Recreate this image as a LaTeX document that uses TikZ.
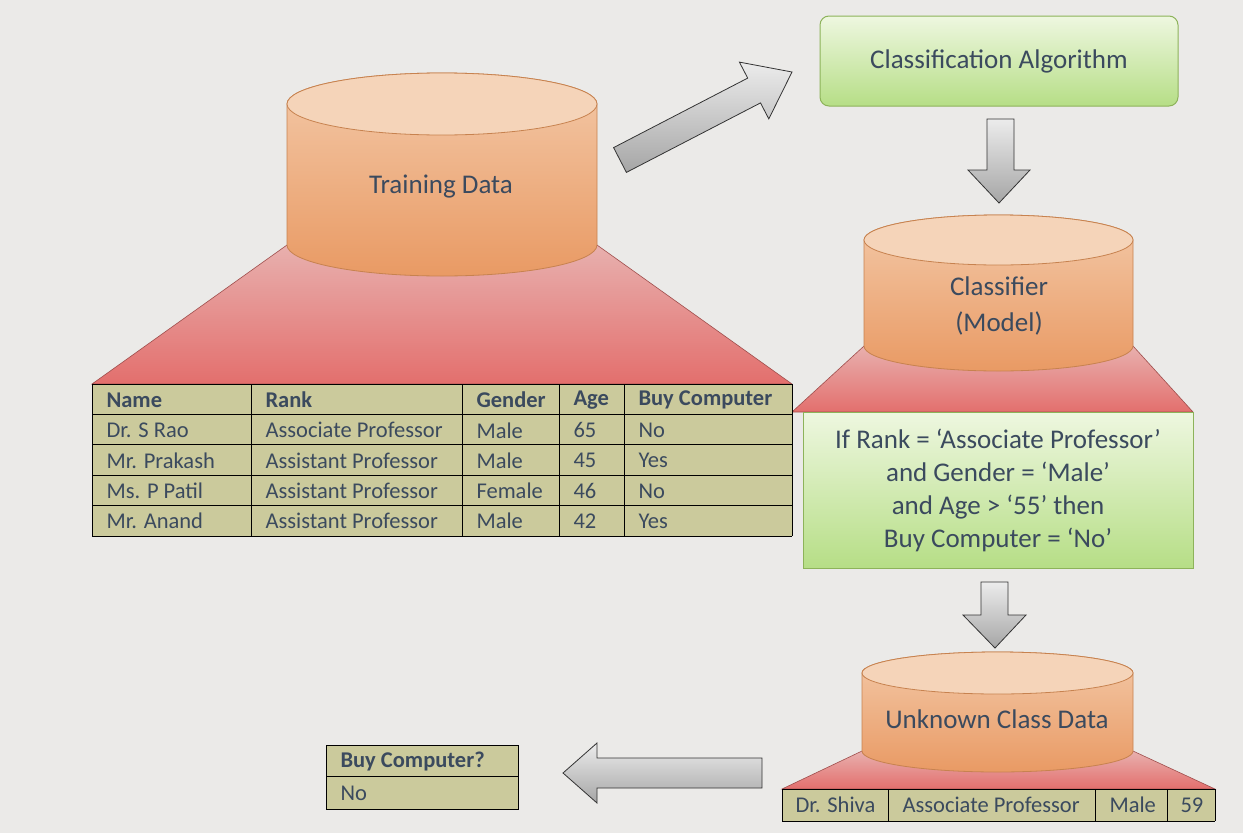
\documentclass[tikz,border=0pt]{standalone}
\usepackage{fontspec}
\setmainfont{Carlito}
\begin{document}
\definecolor{bg}{HTML}{EBEAE8}
\definecolor{txt}{HTML}{3B4A5E}
\definecolor{cell}{HTML}{CBCA9C}
\definecolor{orA}{HTML}{F3C9A8}
\definecolor{orB}{HTML}{E99A64}
\definecolor{orE}{HTML}{C7824F}
\definecolor{rdA}{HTML}{E8B0AE}
\definecolor{rdB}{HTML}{E36F6D}
\definecolor{grA}{HTML}{EEF7E0}
\definecolor{grB}{HTML}{B6DE86}
\definecolor{grE}{HTML}{8DB35A}
\begin{tikzpicture}[x=1pt,y=-1pt,
  lbl/.style={text=txt,font=\fontsize{27}{32}\selectfont},
  tlbl/.style={text=txt,font=\fontsize{22.5}{26}\selectfont,anchor=west},
  hlbl/.style={text=txt,font=\bfseries\fontsize{22.5}{26}\selectfont,anchor=west},
  trap/.style={top color=rdA,bottom color=rdB,draw=rdB!70!black,line width=0.6pt},
  barrow/.style={top color=gray!15,bottom color=gray!70,draw=black!80,line width=0.8pt}]
\fill[bg] (0,0) rectangle (1243,833);
\useasboundingbox (0,0) rectangle (1243,833);
\tikzset{pics/cyl/.style args={#1/#2/#3/#4/#5}{code={
  \path[top color=orA,bottom color=orB,draw=orE,line width=0.8pt]
   (#1,#3) -- (#1,#4) arc[start angle=180,end angle=0,x radius={(#2-#1)/2},y radius=#5] -- (#2,#3) arc[start angle=0,end angle=-180,x radius={(#2-#1)/2},y radius=#5] -- cycle;
  \path[fill=orA!80!white,draw=orE,line width=0.8pt] ({(#1+#2)/2},#3) ellipse[x radius={(#2-#1)/2},y radius=#5];
}}}
% trapezoids
\path[trap] (287,245) -- (597,245) -- (792,384) -- (92,384) -- cycle;
\path[trap] (864,346) -- (1133,346) -- (1193,412) -- (792,412) -- cycle;
\path[trap] (862,751) -- (1133,751) -- (1215,789) -- (782,789) -- cycle;
% cylinders
\pic at (0,0) {cyl={287/597/104/245/31}};
\pic at (0,0) {cyl={864/1133/240/346/25}};
\pic at (0,0) {cyl={862/1133/673/751/21}};
\node[lbl] (td) at (441,187) {Training Data};
\node[lbl,align=center] (cm) at (999,306) {Classifier\\[4pt](Model)};
\node[lbl] (uc) at (997,719) {Unknown Class Data};
\node[lbl,draw=grE,line width=1pt,rounded corners=9pt,top color=grA,bottom color=grB,minimum width=358pt,minimum height=90pt] (ca) at (999,61) {Classification Algorithm};
\node[lbl,draw=grE,line width=1pt,top color=grA,bottom color=grB,minimum width=390pt,minimum height=156pt,align=center] (rule) at (998,490)
 {If Rank = ‘Associate Professor’\\[1pt] and Gender = ‘Male’\\[1pt] and Age > ‘55’ then\\[1pt] Buy Computer = ‘No’};
% block arrows
\path[barrow] (613.6,147.6)--(747.7,78.1)--(739.4,62.1)--(792,72)--(768.8,118.9)--(760.5,102.9)--(626.4,172.4)--cycle;
\path[barrow] (987,119)--(1014,119)--(1014,170)--(1030,170)--(999,203)--(968,170)--(987,170)--cycle;
\path[barrow] (981,582)--(1008,582)--(1008,615)--(1026,615)--(995,648)--(963,615)--(981,615)--cycle;
\path[barrow] (762,758)--(762,788)--(597,788)--(597,803)--(563,773)--(597,743)--(597,758)--cycle;
% main table
\fill[cell] (92,384) rectangle (792,536);
\foreach \y in {384,414,444,475,505,536} \draw[black,line width=0.8pt] (92,\y) -- (792,\y);
\foreach \x in {92,251,462,559,624,792} \draw[black,line width=0.8pt] (\x,384) -- (\x,536);
\foreach \x/\t in {103/Name,262/Rank,473/Gender,570/Age,635/Buy Computer}
  \node[hlbl] at (\x,400) {\t};
\foreach \r/\a/\b/\c/\d/\e in {1/Dr. S Rao/Associate Professor/Male/65/No,
  2/Mr. Prakash/Assistant Professor/Male/45/Yes,
  3/Ms. P Patil/Assistant Professor/Female/46/No,
  4/Mr. Anand/Assistant Professor/Male/42/Yes}{
  \pgfmathsetmacro{\yy}{400+30.3*\r}
  \node[tlbl] at (103,\yy) {\a};
  \node[tlbl] at (262,\yy) {\b};
  \node[tlbl] at (473,\yy) {\c};
  \node[tlbl] at (570,\yy) {\d};
  \node[tlbl] at (635,\yy) {\e};
}
% unknown row
\fill[cell] (782,789) rectangle (1215,821);
\foreach \y in {789,821} \draw[black,line width=0.8pt] (782,\y) -- (1215,\y);
\foreach \x in {782,888,1095,1167,1215} \draw[black,line width=0.8pt] (\x,789) -- (\x,821);
\node[tlbl] at (792,805) {Dr. Shiva};
\node[tlbl] at (899,805) {Associate Professor};
\node[tlbl] at (1106,805) {Male};
\node[tlbl] at (1177,805) {59};
% result table
\fill[cell] (326,745) rectangle (518,809);
\draw[black,line width=0.8pt] (326,745) rectangle (518,809);
\draw[black,line width=0.8pt] (326,776) -- (518,776);
\node[hlbl] at (337,761) {Buy Computer?};
\node[tlbl] at (337,793) {No};
\end{tikzpicture}
\end{document}
